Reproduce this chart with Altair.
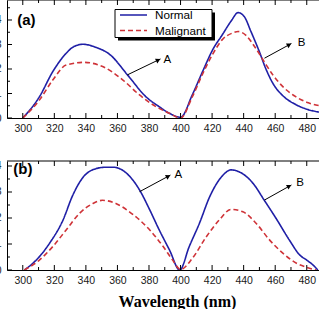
import math
import altair as alt
import pandas as pd

# ---- shared layout ----
X_MIN, X_MAX = 290, 488.4
W = 313
H_A, H_B = 118, 109
YMAX_A, YMAX_B = 4.816, 4.192

SERIES = ["Normal", "Malignant"]
COLORS = ["#1f1fa6", "#cf3338"]
DASHES = [[1, 0], [5, 3]]

X_MAJOR = [300, 320, 340, 360, 380, 400, 420, 440, 460, 480]
X_MINOR = [310, 330, 350, 370, 390, 410, 430, 450, 470]
Y_MAJOR = [0, 1, 2, 3, 4]
Y_MINOR_A = [0.5, 1.5, 2.5, 3.5, 4.5]
Y_MINOR_B = [0.5, 1.5, 2.5, 3.5]

# ---- panel (a) spectra ----
a_normal_wl = [300, 310.5, 319, 327.5, 332, 338, 346.5, 355, 366.5, 378, 386.5, 393, 400,
               407.5, 414, 420.5, 426.5, 432, 436.5, 440.5, 444.5, 450, 454, 458.5, 465,
               473, 480, 488]
a_normal = [0.0, 0.86, 1.89, 2.64, 2.90, 3.01, 2.88, 2.60, 1.75, 0.87, 0.46, 0.19, 0.03,
            0.95, 1.90, 2.80, 3.40, 3.95, 4.30, 4.13, 3.55, 2.70, 2.02, 1.42, 0.90,
            0.55, 0.36, 0.24]
a_malig_wl = [300, 310.5, 319, 327.5, 339, 351, 363.5, 374, 384.5, 393, 400,
              407.5, 414, 420.5, 426.5, 433, 436.5, 441.5, 447, 453, 458.5, 465,
              473, 481, 488]
a_malig = [0.0, 0.73, 1.55, 2.16, 2.27, 2.09, 1.55, 0.94, 0.46, 0.19, 0.0,
           0.87, 1.80, 2.62, 3.20, 3.47, 3.53, 3.37, 2.91, 2.30, 1.76, 1.27,
           0.87, 0.62, 0.50]

# ---- panel (b) spectra ----
b_normal_wl = [301, 308.5, 317, 325.5, 331.5, 338, 346.5, 352, 358, 362, 367.5, 374,
               380.5, 386.5, 393, 399.5, 405.5, 412, 418.5, 426.5, 432, 437, 446, 453,
               460.5, 469, 475.5, 480, 484, 487]
b_normal = [0.0, 0.38, 1.03, 1.92, 2.85, 3.55, 3.90, 3.95, 3.95, 3.88, 3.62, 3.08,
            2.31, 1.54, 0.77, 0.0, 0.90, 1.80, 2.82, 3.62, 3.85, 3.78, 3.33, 2.69,
            1.99, 1.15, 0.58, 0.38, 0.19, 0.0]
b_malig_wl = [301, 310.5, 319, 327.5, 336, 344.5, 350.5, 359, 369.5, 380.5, 389, 395, 400,
              407.5, 416, 424.5, 432, 439.5, 448, 456.5, 465, 473.5, 480, 486]
b_malig = [0.0, 0.38, 0.90, 1.54, 2.18, 2.56, 2.68, 2.56, 2.15, 1.54, 0.90, 0.38, 0.02,
           0.45, 1.25, 1.92, 2.33, 2.24, 1.79, 1.15, 0.64, 0.26, 0.10, 0.0]

# ---- peak markers: arrow start, arrow tip, label anchor ----
a_arrows = [("A", 366.3, 1.76, 387.3, 2.41, 389.2, 2.37),
            ("B", 453.2, 2.44, 470.3, 3.04, 474.3, 3.07)]
b_arrows = [("A", 374.0, 3.01, 393.6, 3.65, 396.1, 3.65),
            ("B", 453.2, 2.69, 470.3, 3.27, 473.3, 3.36)]

SANS = "Liberation Sans"
SERIF = "Liberation Serif"


def panel(curves, arrows, tag, tag_pos, ymax, height, legend, xtitle):
    sx = W / (X_MAX - X_MIN)
    sy = height / ymax
    xs = alt.Scale(domain=[X_MIN, X_MAX], nice=False, zero=False)
    ys = alt.Scale(domain=[0, ymax], nice=False, zero=False)
    xaxis_kw = dict(values=X_MAJOR, format="d", ticks=False, grid=False,
                    domainColor="black", domainWidth=1, labelFont=SANS,
                    labelFontSize=10.5, labelColor="#1a1a1a", labelPadding=5.5)
    if xtitle:
        xaxis_kw.update(titleFont=SERIF, titleFontSize=16,
                        titleFontWeight="bold", titleColor="black",
                        titleX=170, titleY=36, titleAlign="center",
                        titleBaseline="alphabetic")
    X = alt.X("wl:Q", scale=xs, axis=alt.Axis(**xaxis_kw),
              title=xtitle if xtitle else None)
    Y = alt.Y("val:Q", scale=ys, title=None,
              axis=alt.Axis(values=Y_MAJOR, format="d", ticks=False, grid=False,
                            domainColor="black", domainWidth=1, labelFont=SANS,
                            labelFontSize=10.5, labelColor="#1a1a1a", labelPadding=6))

    rows = []
    for name, (wl, val) in zip(SERIES, curves):
        rows += [{"wl": w, "val": v, "series": name} for w, v in zip(wl, val)]
    lines = alt.Chart(pd.DataFrame(rows)).mark_line(
        interpolate="monotone", strokeWidth=1.6, clip=True
    ).encode(
        x=X, y=Y,
        color=alt.Color("series:N", scale=alt.Scale(domain=SERIES, range=COLORS), legend=None),
        strokeDash=alt.StrokeDash("series:N", scale=alt.Scale(domain=SERIES, range=DASHES), legend=None),
    )

    # inward ticks on all framed sides
    xt_major = pd.DataFrame({"wl": X_MAJOR})
    xt_minor = pd.DataFrame({"wl": X_MINOR})
    yt_major = pd.DataFrame({"val": Y_MAJOR})
    yt_minor = pd.DataFrame({"val": Y_MINOR_A if ymax > 4.5 else Y_MINOR_B})
    ticks = []
    for df, L in ((xt_major, 5), (xt_minor, 3)):
        for ypos in (height - L / 2, L / 2):
            ticks.append(alt.Chart(df).mark_tick(orient="vertical", size=L, thickness=1,
                                                 color="black", opacity=1)
                         .encode(x=X, y=alt.value(ypos)))
    for df, L in ((yt_major, 5), (yt_minor, 3)):
        ticks.append(alt.Chart(df).mark_tick(orient="horizontal", size=L, thickness=1,
                                             color="black", opacity=1)
                     .encode(y=Y, x=alt.value(L / 2)))

    top_frame = alt.Chart(pd.DataFrame({"k": [0]})).mark_rule(color="black", strokeWidth=1).encode(
        x=alt.value(0), x2=alt.value(W), y=alt.value(0))

    # arrows with filled heads
    shaft_rows, head_rows, label_rows = [], [], []
    for lab, x0, y0, x1, y1, lx, ly in arrows:
        dxp, dyp = (x1 - x0) * sx, (y1 - y0) * sy
        L = math.hypot(dxp, dyp)
        shaft_rows.append({"wl": x0, "val": y0, "wl2": x1, "val2": y1})
        head_rows.append({"wl": x1 - 2.5 * dxp / L / sx, "val": y1 - 2.5 * dyp / L / sy,
                          "angle": math.degrees(math.atan2(dxp, dyp)) % 360})
        label_rows.append({"wl": lx, "val": ly, "label": lab})
    shafts = alt.Chart(pd.DataFrame(shaft_rows)).mark_rule(color="black", strokeWidth=1).encode(
        x=X, y=Y, x2=alt.X2("wl2:Q"), y2=alt.Y2("val2:Q"))
    heads = alt.Chart(pd.DataFrame(head_rows)).mark_point(
        shape="triangle-up", filled=True, size=28, color="black", opacity=1
    ).encode(x=X, y=Y, angle=alt.Angle("angle:Q", scale=None))
    labels = alt.Chart(pd.DataFrame(label_rows)).mark_text(
        align="left", baseline="middle", font=SANS, fontSize=11.5, color="black"
    ).encode(x=X, y=Y, text="label:N")

    tag_df = pd.DataFrame({"wl": [tag_pos[0]], "val": [tag_pos[1]], "t": [tag]})
    tag_text = alt.Chart(tag_df).mark_text(align="left", baseline="middle", font=SANS,
                                           fontSize=15, fontWeight="bold",
                                           color="black").encode(x=X, y=Y, text="t:N")

    layers = [lines] + ticks + [top_frame, shafts, heads, labels, tag_text]

    if legend:
        one = pd.DataFrame({"k": [0]})
        layers.append(alt.Chart(one).mark_rect(color="black").encode(
            x=alt.value(111), x2=alt.value(208), y=alt.value(12.5), y2=alt.value(40.5)))
        layers.append(alt.Chart(one).mark_rect(fill="white", stroke="black", strokeWidth=1).encode(
            x=alt.value(108), x2=alt.value(205), y=alt.value(9.5), y2=alt.value(37.5)))
        for i, (name, col, dash) in enumerate(zip(SERIES, COLORS, DASHES)):
            ypos = 15 + 15.5 * i
            layers.append(alt.Chart(one).mark_rule(color=col, strokeWidth=1.6, strokeDash=dash).encode(
                x=alt.value(113), x2=alt.value(140), y=alt.value(ypos)))
            layers.append(alt.Chart(one).mark_text(align="left", baseline="middle", font=SANS,
                                                   fontSize=11.7, color="black").encode(
                x=alt.value(148), y=alt.value(ypos), text=alt.value(name)))

    return alt.layer(*layers).properties(width=W, height=height)


pa = panel([(a_normal_wl, a_normal), (a_malig_wl, a_malig)], a_arrows,
           "(a)", (296.5, 4.0), YMAX_A, H_A, True, None)
pb = panel([(b_normal_wl, b_normal), (b_malig_wl, b_malig)], b_arrows,
           "(b)", (294, 3.88), YMAX_B, H_B, False, "Wavelength (nm)")

chart = alt.vconcat(pa, pb, spacing=43, bounds="flush").properties(
    padding={"left": -5, "top": -1, "right": -2, "bottom": 0},
    background="white",
).configure_view(stroke=None)

chart.save("out.html", embed_options={"renderer": "svg", "actions": False})
